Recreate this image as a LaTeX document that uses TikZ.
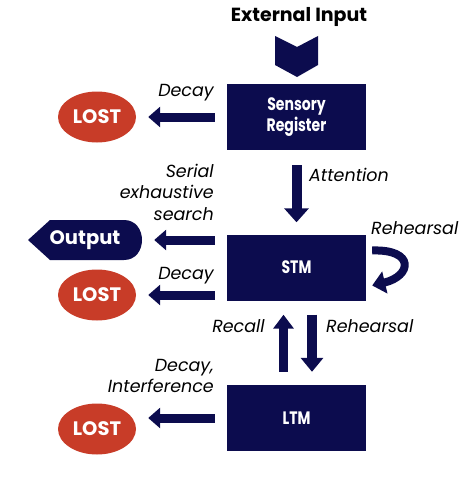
\documentclass[tikz,border=0pt]{standalone}
\usepackage{fontspec}
\setmainfont{Poppins}
\newfontfamily\cond[FakeStretch=0.78]{Poppins}
\usetikzlibrary{arrows.meta,shapes.geometric}
\definecolor{navy}{RGB}{12,12,78}
\definecolor{lostred}{RGB}{200,60,40}
\begin{document}
\begin{tikzpicture}[x=1pt,y=-1pt,
  box/.style={fill=navy, minimum width=139pt, minimum height=66pt, inner sep=0pt, text=white, align=center, font=\cond\bfseries\fontsize{18}{21}\selectfont},
  lost/.style={ellipse, fill=lostred, minimum width=78pt, minimum height=51pt, inner sep=0pt, text=white, font=\bfseries\fontsize{19.5}{19.5}\selectfont},
  lbl/.style={font=\itshape\fontsize{17.5}{21.5}\selectfont, text=black, inner sep=0pt},
  harrow/.style={navy, line width=9pt, -{Triangle[width=20pt,length=12pt]}, shorten <=12pt, shorten >=12pt},
  varrow/.style={navy, line width=10pt, -{Triangle[width=24pt,length=14pt]}, shorten <=13pt, shorten >=13pt},
  looparrow/.style={navy, line width=8pt, -{Triangle[width=22pt,length=13pt]}}]
\useasboundingbox (0,0) rectangle (474,487);
% title and input chevron
\node[font=\bfseries\fontsize{19}{19}\selectfont] (ext) at (299,17) {External Input};
\fill[navy] (275,36) -- (297,47) -- (318,36) -- (318,65) -- (297,77) -- (275,65) -- cycle;
% boxes
\node[box] (sr) at (296.5,117) {Sensory\\Register};
\node[box] (stm) at (296.5,267.5) {STM};
\node[box] (ltm) at (296.5,418) {LTM};
% lost ellipses
\node[lost] (l1) at (97,117) {LOST};
\node[lost] (l2) at (97,295) {LOST};
\node[lost] (l3) at (97,429) {LOST};
% output shape
\fill[navy] (28,240) -- (50,220) -- (124,220) .. controls (136,220) and (142,230) .. (142,240)
  .. controls (142,250) and (136,260) .. (124,260) -- (50,260) -- cycle;
\node[font=\bfseries\fontsize{19.5}{19.5}\selectfont, text=white, minimum width=114pt, minimum height=40pt, inner sep=0pt] (out) at (85,240) {Output};
% arrows
\draw[harrow] (sr.west) -- (sr.west -| l1.east);
\draw[harrow] (stm.west |- out.east) -- (out.east);
\draw[harrow] (stm.west |- l2.east) -- (l2.east);
\draw[harrow] (ltm.west) -- (ltm.west -| l3.east);
\draw[varrow, shorten <=15pt, shorten >=12pt] (sr.south) -- (stm.north);
\draw[varrow, line width=9pt, -{Triangle[width=20pt,length=14pt]}, shorten <=13pt, shorten >=14pt] ([xshift=-13pt]ltm.north) -- ([xshift=-13pt]stm.south);
\draw[varrow, line width=10pt, -{Triangle[width=22pt,length=14pt]}, shorten <=14pt, shorten >=13pt] ([xshift=15.5pt]stm.south) -- ([xshift=15.5pt]ltm.north);
\draw[looparrow] ([xshift=6pt,yshift=17pt]stm.east) .. controls (415,249) and (412,276) .. ([xshift=6pt,yshift=-18pt]stm.east);
% labels
\node[lbl, anchor=east] (d1) at (214,93) {Decay};
\node[lbl, anchor=west] (att) at (309,175) {Attention};
\node[lbl, anchor=east, align=right] (ser) at (214,192) {Serial\\exhaustive\\search};
\node[lbl, anchor=west] (reh1) at (371,228) {Rehearsal};
\node[lbl, anchor=east] (d2) at (214,276) {Decay};
\node[lbl, anchor=east] (rec) at (265,326) {Recall};
\node[lbl, anchor=west] (reh2) at (326,326) {Rehearsal};
\node[lbl, anchor=east, align=right] (d3) at (214,376) {Decay,\\Interference};
\end{tikzpicture}
\end{document}
